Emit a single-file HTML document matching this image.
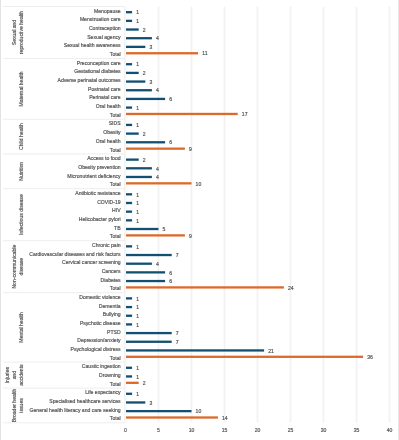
<!DOCTYPE html>
<html><head><meta charset="utf-8"><style>
html,body{margin:0;padding:0;background:#fff;width:399px;height:440px;overflow:hidden}
svg{display:block;will-change:transform}
text{font-family:"Liberation Sans",sans-serif;fill:#555555;stroke:#555555;stroke-width:0.2px;letter-spacing:0px}
</style></head><body>
<svg width="399" height="440" viewBox="0 0 399 440">
<rect x="0" y="0" width="399" height="440" fill="#fff"/>
<g>

<rect x="0" y="0" width="1" height="440" fill="#e2e2e2"/>
<rect x="398" y="0" width="1" height="440" fill="#e8e8e8"/>
<rect x="157.6" y="6.5" width="1.8" height="416" fill="#f2f2f2"/>
<rect x="190.6" y="6.5" width="1.8" height="416" fill="#f2f2f2"/>
<rect x="223.6" y="6.5" width="1.8" height="416" fill="#f2f2f2"/>
<rect x="256.6" y="6.5" width="1.8" height="416" fill="#f2f2f2"/>
<rect x="289.6" y="6.5" width="1.8" height="416" fill="#f2f2f2"/>
<rect x="322.6" y="6.5" width="1.8" height="416" fill="#f2f2f2"/>
<rect x="355.6" y="6.5" width="1.8" height="416" fill="#f2f2f2"/>
<rect x="388.6" y="6.5" width="1.8" height="416" fill="#f2f2f2"/>
<rect x="124.4" y="6.5" width="1" height="416" fill="#ebebeb"/>
<rect x="3" y="6" width="121.9" height="1" fill="#eeeeee"/>
<rect x="3" y="58.04" width="121.9" height="1" fill="#eeeeee"/>
<rect x="3" y="118.75" width="121.9" height="1" fill="#eeeeee"/>
<rect x="3" y="153.44" width="121.9" height="1" fill="#eeeeee"/>
<rect x="3" y="188.13" width="121.9" height="1" fill="#eeeeee"/>
<rect x="3" y="240.17" width="121.9" height="1" fill="#eeeeee"/>
<rect x="3" y="292.21" width="121.9" height="1" fill="#eeeeee"/>
<rect x="3" y="361.59" width="121.9" height="1" fill="#eeeeee"/>
<rect x="3" y="387.61" width="121.9" height="1" fill="#eeeeee"/>
<rect x="3" y="422.3" width="121.9" height="1" fill="#eeeeee"/>
<text transform="translate(120.6,12.74) scale(0.91,1.0)" font-size="5.6" text-anchor="end">Menopause</text>
<rect x="126" y="11.04" width="6.1" height="2.3" fill="#134f72"/>
<text transform="translate(136.2,14.39) scale(0.91,1.0)" font-size="5.6">1</text>
<text transform="translate(120.6,21.41) scale(0.91,1.0)" font-size="5.6" text-anchor="end">Menstruation care</text>
<rect x="126" y="19.71" width="6.1" height="2.3" fill="#134f72"/>
<text transform="translate(136.2,23.06) scale(0.91,1.0)" font-size="5.6">1</text>
<text transform="translate(120.6,30.08) scale(0.91,1.0)" font-size="5.6" text-anchor="end">Contraception</text>
<rect x="126" y="28.38" width="12.7" height="2.3" fill="#134f72"/>
<text transform="translate(142.8,31.73) scale(0.91,1.0)" font-size="5.6">2</text>
<text transform="translate(120.6,38.76) scale(0.91,1.0)" font-size="5.6" text-anchor="end">Sexual agency</text>
<rect x="126" y="37.06" width="25.9" height="2.3" fill="#134f72"/>
<text transform="translate(156,40.41) scale(0.91,1.0)" font-size="5.6">4</text>
<text transform="translate(120.6,47.43) scale(0.91,1.0)" font-size="5.6" text-anchor="end">Sexual health awareness</text>
<rect x="126" y="45.73" width="19.3" height="2.3" fill="#134f72"/>
<text transform="translate(149.4,49.08) scale(0.91,1.0)" font-size="5.6">3</text>
<text transform="translate(120.6,56.1) scale(0.91,1.0)" font-size="5.6" text-anchor="end">Total</text>
<rect x="126" y="52.1" width="72.1" height="2.3" fill="#dc6a2b"/>
<text transform="translate(202.2,55.45) scale(0.91,1.0)" font-size="5.6">11</text>
<text transform="translate(16.2,32.52) rotate(-90) scale(0.91,1.0)" font-size="5.6" text-anchor="middle">Sexual and</text>
<text transform="translate(23,32.52) rotate(-90) scale(0.91,1.0)" font-size="5.6" text-anchor="middle">reproductive health</text>
<text transform="translate(120.6,64.77) scale(0.91,1.0)" font-size="5.6" text-anchor="end">Preconception care</text>
<rect x="126" y="63.07" width="6.1" height="2.3" fill="#134f72"/>
<text transform="translate(136.2,66.42) scale(0.91,1.0)" font-size="5.6">1</text>
<text transform="translate(120.6,73.45) scale(0.91,1.0)" font-size="5.6" text-anchor="end">Gestational diabetes</text>
<rect x="126" y="71.75" width="12.7" height="2.3" fill="#134f72"/>
<text transform="translate(142.8,75.1) scale(0.91,1.0)" font-size="5.6">2</text>
<text transform="translate(120.6,82.12) scale(0.91,1.0)" font-size="5.6" text-anchor="end">Adverse perinatal outcomes</text>
<rect x="126" y="80.42" width="19.3" height="2.3" fill="#134f72"/>
<text transform="translate(149.4,83.77) scale(0.91,1.0)" font-size="5.6">3</text>
<text transform="translate(120.6,90.79) scale(0.91,1.0)" font-size="5.6" text-anchor="end">Postnatal care</text>
<rect x="126" y="89.09" width="25.9" height="2.3" fill="#134f72"/>
<text transform="translate(156,92.44) scale(0.91,1.0)" font-size="5.6">4</text>
<text transform="translate(120.6,99.47) scale(0.91,1.0)" font-size="5.6" text-anchor="end">Perinatal care</text>
<rect x="126" y="97.77" width="39.1" height="2.3" fill="#134f72"/>
<text transform="translate(169.2,101.12) scale(0.91,1.0)" font-size="5.6">6</text>
<text transform="translate(120.6,108.14) scale(0.91,1.0)" font-size="5.6" text-anchor="end">Oral health</text>
<rect x="126" y="106.44" width="6.1" height="2.3" fill="#134f72"/>
<text transform="translate(136.2,109.79) scale(0.91,1.0)" font-size="5.6">1</text>
<text transform="translate(120.6,116.81) scale(0.91,1.0)" font-size="5.6" text-anchor="end">Total</text>
<rect x="126" y="112.81" width="111.7" height="2.3" fill="#dc6a2b"/>
<text transform="translate(241.8,116.16) scale(0.91,1.0)" font-size="5.6">17</text>
<text transform="translate(23,88.89) rotate(-90) scale(0.91,1.0)" font-size="5.6" text-anchor="middle">Maternal health</text>
<text transform="translate(120.6,125.48) scale(0.91,1.0)" font-size="5.6" text-anchor="end">SIDS</text>
<rect x="126" y="123.78" width="6.1" height="2.3" fill="#134f72"/>
<text transform="translate(136.2,127.13) scale(0.91,1.0)" font-size="5.6">1</text>
<text transform="translate(120.6,134.16) scale(0.91,1.0)" font-size="5.6" text-anchor="end">Obesity</text>
<rect x="126" y="132.46" width="12.7" height="2.3" fill="#134f72"/>
<text transform="translate(142.8,135.81) scale(0.91,1.0)" font-size="5.6">2</text>
<text transform="translate(120.6,142.83) scale(0.91,1.0)" font-size="5.6" text-anchor="end">Oral health</text>
<rect x="126" y="141.13" width="39.1" height="2.3" fill="#134f72"/>
<text transform="translate(169.2,144.48) scale(0.91,1.0)" font-size="5.6">6</text>
<text transform="translate(120.6,151.5) scale(0.91,1.0)" font-size="5.6" text-anchor="end">Total</text>
<rect x="126" y="147.5" width="58.9" height="2.3" fill="#dc6a2b"/>
<text transform="translate(189,150.85) scale(0.91,1.0)" font-size="5.6">9</text>
<text transform="translate(23,136.59) rotate(-90) scale(0.91,1.0)" font-size="5.6" text-anchor="middle">Child health</text>
<text transform="translate(120.6,160.18) scale(0.91,1.0)" font-size="5.6" text-anchor="end">Access to food</text>
<rect x="126" y="158.48" width="12.7" height="2.3" fill="#134f72"/>
<text transform="translate(142.8,161.83) scale(0.91,1.0)" font-size="5.6">2</text>
<text transform="translate(120.6,168.85) scale(0.91,1.0)" font-size="5.6" text-anchor="end">Obesity prevention</text>
<rect x="126" y="167.15" width="25.9" height="2.3" fill="#134f72"/>
<text transform="translate(156,170.5) scale(0.91,1.0)" font-size="5.6">4</text>
<text transform="translate(120.6,177.52) scale(0.91,1.0)" font-size="5.6" text-anchor="end">Micronutrient deficiency</text>
<rect x="126" y="175.82" width="25.9" height="2.3" fill="#134f72"/>
<text transform="translate(156,179.17) scale(0.91,1.0)" font-size="5.6">4</text>
<text transform="translate(120.6,186.19) scale(0.91,1.0)" font-size="5.6" text-anchor="end">Total</text>
<rect x="126" y="182.19" width="65.5" height="2.3" fill="#dc6a2b"/>
<text transform="translate(195.6,185.54) scale(0.91,1.0)" font-size="5.6">10</text>
<text transform="translate(23,171.29) rotate(-90) scale(0.91,1.0)" font-size="5.6" text-anchor="middle">Nutrition</text>
<text transform="translate(120.6,194.87) scale(0.91,1.0)" font-size="5.6" text-anchor="end">Antibiotic resistance</text>
<rect x="126" y="193.17" width="6.1" height="2.3" fill="#134f72"/>
<text transform="translate(136.2,196.52) scale(0.91,1.0)" font-size="5.6">1</text>
<text transform="translate(120.6,203.54) scale(0.91,1.0)" font-size="5.6" text-anchor="end">COVID-19</text>
<rect x="126" y="201.84" width="6.1" height="2.3" fill="#134f72"/>
<text transform="translate(136.2,205.19) scale(0.91,1.0)" font-size="5.6">1</text>
<text transform="translate(120.6,212.21) scale(0.91,1.0)" font-size="5.6" text-anchor="end">HIV</text>
<rect x="126" y="210.51" width="6.1" height="2.3" fill="#134f72"/>
<text transform="translate(136.2,213.86) scale(0.91,1.0)" font-size="5.6">1</text>
<text transform="translate(120.6,220.89) scale(0.91,1.0)" font-size="5.6" text-anchor="end">Helicobacter pylori</text>
<rect x="126" y="219.19" width="6.1" height="2.3" fill="#134f72"/>
<text transform="translate(136.2,222.54) scale(0.91,1.0)" font-size="5.6">1</text>
<text transform="translate(120.6,229.56) scale(0.91,1.0)" font-size="5.6" text-anchor="end">TB</text>
<rect x="126" y="227.86" width="32.5" height="2.3" fill="#134f72"/>
<text transform="translate(162.6,231.21) scale(0.91,1.0)" font-size="5.6">5</text>
<text transform="translate(120.6,238.23) scale(0.91,1.0)" font-size="5.6" text-anchor="end">Total</text>
<rect x="126" y="234.23" width="58.9" height="2.3" fill="#dc6a2b"/>
<text transform="translate(189,237.58) scale(0.91,1.0)" font-size="5.6">9</text>
<text transform="translate(23,214.65) rotate(-90) scale(0.91,1.0)" font-size="5.6" text-anchor="middle">Infectious disease</text>
<text transform="translate(120.6,246.91) scale(0.91,1.0)" font-size="5.6" text-anchor="end">Chronic pain</text>
<rect x="126" y="245.21" width="6.1" height="2.3" fill="#134f72"/>
<text transform="translate(136.2,248.56) scale(0.91,1.0)" font-size="5.6">1</text>
<text transform="translate(120.6,255.58) scale(0.91,1.0)" font-size="5.6" text-anchor="end">Cardiovascular diseases and risk factors</text>
<rect x="126" y="253.88" width="45.7" height="2.3" fill="#134f72"/>
<text transform="translate(175.8,257.23) scale(0.91,1.0)" font-size="5.6">7</text>
<text transform="translate(120.6,264.25) scale(0.91,1.0)" font-size="5.6" text-anchor="end">Cervical cancer screening</text>
<rect x="126" y="262.55" width="25.9" height="2.3" fill="#134f72"/>
<text transform="translate(156,265.9) scale(0.91,1.0)" font-size="5.6">4</text>
<text transform="translate(120.6,272.92) scale(0.91,1.0)" font-size="5.6" text-anchor="end">Cancers</text>
<rect x="126" y="271.22" width="39.1" height="2.3" fill="#134f72"/>
<text transform="translate(169.2,274.57) scale(0.91,1.0)" font-size="5.6">6</text>
<text transform="translate(120.6,281.6) scale(0.91,1.0)" font-size="5.6" text-anchor="end">Diabetes</text>
<rect x="126" y="279.9" width="39.1" height="2.3" fill="#134f72"/>
<text transform="translate(169.2,283.25) scale(0.91,1.0)" font-size="5.6">6</text>
<text transform="translate(120.6,290.27) scale(0.91,1.0)" font-size="5.6" text-anchor="end">Total</text>
<rect x="126" y="286.27" width="157.9" height="2.3" fill="#dc6a2b"/>
<text transform="translate(288,289.62) scale(0.91,1.0)" font-size="5.6">24</text>
<text transform="translate(16.2,266.69) rotate(-90) scale(0.91,1.0)" font-size="5.6" text-anchor="middle">Non-communicable</text>
<text transform="translate(23,266.69) rotate(-90) scale(0.91,1.0)" font-size="5.6" text-anchor="middle">disease</text>
<text transform="translate(120.6,298.94) scale(0.91,1.0)" font-size="5.6" text-anchor="end">Domestic violence</text>
<rect x="126" y="297.24" width="6.1" height="2.3" fill="#134f72"/>
<text transform="translate(136.2,300.59) scale(0.91,1.0)" font-size="5.6">1</text>
<text transform="translate(120.6,307.62) scale(0.91,1.0)" font-size="5.6" text-anchor="end">Dementia</text>
<rect x="126" y="305.92" width="6.1" height="2.3" fill="#134f72"/>
<text transform="translate(136.2,309.27) scale(0.91,1.0)" font-size="5.6">1</text>
<text transform="translate(120.6,316.29) scale(0.91,1.0)" font-size="5.6" text-anchor="end">Bullying</text>
<rect x="126" y="314.59" width="6.1" height="2.3" fill="#134f72"/>
<text transform="translate(136.2,317.94) scale(0.91,1.0)" font-size="5.6">1</text>
<text transform="translate(120.6,324.96) scale(0.91,1.0)" font-size="5.6" text-anchor="end">Psychotic disease</text>
<rect x="126" y="323.26" width="6.1" height="2.3" fill="#134f72"/>
<text transform="translate(136.2,326.61) scale(0.91,1.0)" font-size="5.6">1</text>
<text transform="translate(120.6,333.63) scale(0.91,1.0)" font-size="5.6" text-anchor="end">PTSD</text>
<rect x="126" y="331.93" width="45.7" height="2.3" fill="#134f72"/>
<text transform="translate(175.8,335.28) scale(0.91,1.0)" font-size="5.6">7</text>
<text transform="translate(120.6,342.31) scale(0.91,1.0)" font-size="5.6" text-anchor="end">Depression/anxiety</text>
<rect x="126" y="340.61" width="45.7" height="2.3" fill="#134f72"/>
<text transform="translate(175.8,343.96) scale(0.91,1.0)" font-size="5.6">7</text>
<text transform="translate(120.6,350.98) scale(0.91,1.0)" font-size="5.6" text-anchor="end">Psychological distress</text>
<rect x="126" y="349.28" width="138.1" height="2.3" fill="#134f72"/>
<text transform="translate(268.2,352.63) scale(0.91,1.0)" font-size="5.6">21</text>
<text transform="translate(120.6,359.65) scale(0.91,1.0)" font-size="5.6" text-anchor="end">Total</text>
<rect x="126" y="355.65" width="237.1" height="2.3" fill="#dc6a2b"/>
<text transform="translate(367.2,359) scale(0.91,1.0)" font-size="5.6">36</text>
<text transform="translate(23,327.4) rotate(-90) scale(0.91,1.0)" font-size="5.6" text-anchor="middle">Mental health</text>
<text transform="translate(120.6,368.33) scale(0.91,1.0)" font-size="5.6" text-anchor="end">Caustic ingestion</text>
<rect x="126" y="366.63" width="6.1" height="2.3" fill="#134f72"/>
<text transform="translate(136.2,369.98) scale(0.91,1.0)" font-size="5.6">1</text>
<text transform="translate(120.6,377) scale(0.91,1.0)" font-size="5.6" text-anchor="end">Drowning</text>
<rect x="126" y="375.3" width="6.1" height="2.3" fill="#134f72"/>
<text transform="translate(136.2,378.65) scale(0.91,1.0)" font-size="5.6">1</text>
<text transform="translate(120.6,385.67) scale(0.91,1.0)" font-size="5.6" text-anchor="end">Total</text>
<rect x="126" y="381.67" width="12.7" height="2.3" fill="#dc6a2b"/>
<text transform="translate(142.8,385.02) scale(0.91,1.0)" font-size="5.6">2</text>
<text transform="translate(9.4,375.1) rotate(-90) scale(0.91,1.0)" font-size="5.6" text-anchor="middle">Injuries</text>
<text transform="translate(16.2,375.1) rotate(-90) scale(0.91,1.0)" font-size="5.6" text-anchor="middle">and</text>
<text transform="translate(23,375.1) rotate(-90) scale(0.91,1.0)" font-size="5.6" text-anchor="middle">accidents</text>
<text transform="translate(120.6,394.34) scale(0.91,1.0)" font-size="5.6" text-anchor="end">Life expectancy</text>
<rect x="126" y="392.64" width="6.1" height="2.3" fill="#134f72"/>
<text transform="translate(136.2,395.99) scale(0.91,1.0)" font-size="5.6">1</text>
<text transform="translate(120.6,403.02) scale(0.91,1.0)" font-size="5.6" text-anchor="end">Specialised healthcare services</text>
<rect x="126" y="401.32" width="19.3" height="2.3" fill="#134f72"/>
<text transform="translate(149.4,404.67) scale(0.91,1.0)" font-size="5.6">3</text>
<text transform="translate(120.6,411.69) scale(0.91,1.0)" font-size="5.6" text-anchor="end">General health literacy and care seeking</text>
<rect x="126" y="409.99" width="65.5" height="2.3" fill="#134f72"/>
<text transform="translate(195.6,413.34) scale(0.91,1.0)" font-size="5.6">10</text>
<text transform="translate(120.6,420.36) scale(0.91,1.0)" font-size="5.6" text-anchor="end">Total</text>
<rect x="126" y="416.36" width="91.9" height="2.3" fill="#dc6a2b"/>
<text transform="translate(222,419.71) scale(0.91,1.0)" font-size="5.6">14</text>
<text transform="translate(16.2,405.45) rotate(-90) scale(0.91,1.0)" font-size="5.6" text-anchor="middle">Broader health</text>
<text transform="translate(23,405.45) rotate(-90) scale(0.91,1.0)" font-size="5.6" text-anchor="middle">issues</text>
<text transform="translate(125.5,431.9) scale(0.91,1.0)" font-size="5.6" text-anchor="middle">0</text>
<text transform="translate(158.5,431.9) scale(0.91,1.0)" font-size="5.6" text-anchor="middle">5</text>
<text transform="translate(191.5,431.9) scale(0.91,1.0)" font-size="5.6" text-anchor="middle">10</text>
<text transform="translate(224.5,431.9) scale(0.91,1.0)" font-size="5.6" text-anchor="middle">15</text>
<text transform="translate(257.5,431.9) scale(0.91,1.0)" font-size="5.6" text-anchor="middle">20</text>
<text transform="translate(290.5,431.9) scale(0.91,1.0)" font-size="5.6" text-anchor="middle">25</text>
<text transform="translate(323.5,431.9) scale(0.91,1.0)" font-size="5.6" text-anchor="middle">30</text>
<text transform="translate(356.5,431.9) scale(0.91,1.0)" font-size="5.6" text-anchor="middle">35</text>
<text transform="translate(389.5,431.9) scale(0.91,1.0)" font-size="5.6" text-anchor="middle">40</text>
</g></svg></body></html>
